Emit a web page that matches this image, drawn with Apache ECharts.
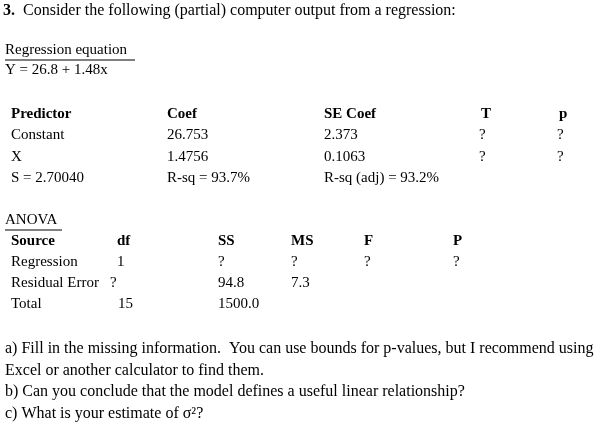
<!DOCTYPE html>
<html>
<head>
<meta charset="utf-8">
<script src="https://cdn.jsdelivr.net/npm/echarts@6/dist/echarts.min.js"></script>
<style>html,body{margin:0;background:#fff}#chart-dev{width:607px;height:430px}</style>
</head>
<body>
<div id="chart-dev"></div>
<script>
var title = '3.';
var titleRest = ' Consider the following (partial) computer output from a regression:';
var equationLabel = 'Regression equation';
var equation = 'Y = 26.8 + 1.48x';

var predHeader = ['Predictor', 'Coef', 'SE Coef', 'T', 'p'];
var predRows = [
    ['Constant', '26.753', '2.373', '?', '?'],
    ['X', '1.4756', '0.1063', '?', '?'],
    ['S = 2.70040', 'R-sq = 93.7%', 'R-sq (adj) = 93.2%', '', '']
];
var anovaLabel = 'ANOVA';
var anovaHeader = ['Source', 'df', 'SS', 'MS', 'F', 'P'];
var anovaRows = [
    ['Regression', '1', '?', '?', '?', '?'],
    ['Residual Error', '?', '94.8', '7.3', '', ''],
    ['Total', '15', '1500.0', '', '', '']
];
var questions = [
    'a) Fill in the missing information.  You can use bounds for p-values, but I recommend using',
    'Excel or another calculator to find them.',
    'b) Can you conclude that the model defines a useful linear relationship?',
    'c) What is your estimate of \u03c3\u00b2?'
];

var FONT = '"Liberation Serif", "Times New Roman", serif';
var predX = [11, 167, 324, 481, 559];
var predColX = [[0, 0], [0, 0], [0, 0], [4, -2], [4, -2]];
var anovaX = [11, 117, 218, 291, 364, 453];
var anovaRowX = [[11, 117, 218, 291, 364, 453], [11, 110, 218, 291, 364, 453], [11, 118, 218, 291, 364, 453]];

var g = [];
function txt(s, x, y, bold, size) {
    g.push({ type: 'text', left: x, top: y - 9, style: {
        text: s, fill: '#000', font: (bold ? 'bold ' : '') + (size || 15) + 'px ' + FONT } });
}
function underline(x, y, w) {
    g.push({ type: 'line', shape: { x1: x, y1: y, x2: x + w, y2: y }, style: { stroke: '#000', lineWidth: 1 } });
}

txt(title, 3, 12, true, 16);
txt(titleRest, 19, 12, false, 16);
txt(equationLabel, 5, 52);
underline(5, 60, 130);
txt(equation, 5, 72);

predHeader.forEach(function (h, i) { txt(h, predX[i], 116, true); });
predRows.forEach(function (r, j) {
    r.forEach(function (c, i) {
        if (c) txt(c, predX[i] + (i >= 3 ? predColX[i][1] : 0), 137 + j * 21.5);
    });
});

txt(anovaLabel, 5, 222);
underline(5, 230, 57);
anovaHeader.forEach(function (h, i) { txt(h, anovaX[i], 243, true); });
anovaRows.forEach(function (r, j) {
    r.forEach(function (c, i) { if (c) txt(c, anovaRowX[j][i], 264 + j * 21); });
});

questions.forEach(function (q, i) { txt(q, 5, 350 + i * 21.5, false, 16); });

var myChart = echarts.init(document.getElementById('chart-dev'), null, { renderer: 'canvas' });
var option = { backgroundColor: '#fff', graphic: g };
myChart.setOption(option);
window.addEventListener('resize', myChart.resize);
</script>
</body>
</html>
